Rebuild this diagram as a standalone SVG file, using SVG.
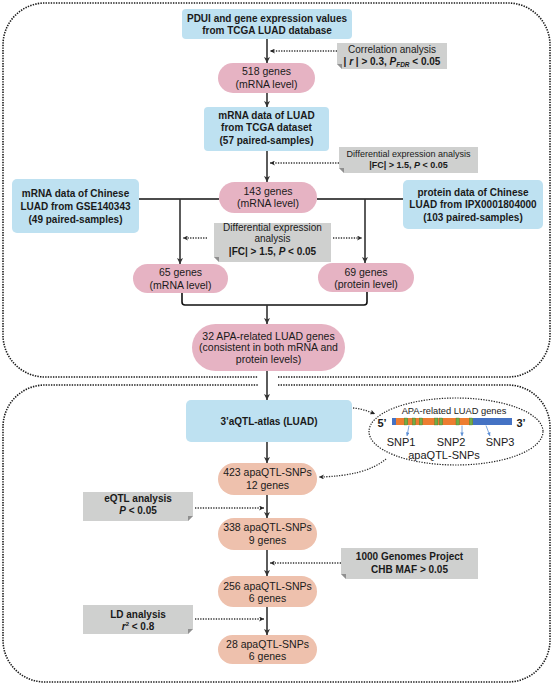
<svg xmlns="http://www.w3.org/2000/svg" width="553" height="685" viewBox="0 0 553 685">
<defs>
<style>
text{font-family:"Liberation Sans",Arial,sans-serif;fill:#1a1a1a;text-anchor:middle}
.b{font-weight:bold;font-size:10px}
.p{font-size:10.5px}
.g{font-size:10px}
.blue{fill:#BEE1F1}
.pink{fill:#E6B3C3}
.sal{fill:#EEC1AD}
.gray{fill:#CFD0CF}
.fold{fill:#8f8f8f}
.frame{fill:none;stroke:#1a1a1a;stroke-width:1.6;stroke-dasharray:1.4 1.2}
.main{fill:none;stroke:#333;stroke-width:1.6;marker-end:url(#ah)}
.dot{fill:none;stroke:#333;stroke-width:1.3;stroke-dasharray:1.3 1.3;marker-end:url(#dh)}
.line{fill:none;stroke:#111;stroke-width:1.6}
.snp{fill:none;stroke:#5C8FD6;stroke-width:0.8;marker-end:url(#sh)}
.sl{font-size:11px}
</style>
<marker id="ah" viewBox="0 0 10 10" refX="10" refY="5" markerUnits="userSpaceOnUse" markerWidth="8" markerHeight="6" orient="auto">
<path d="M0,0 L10,5 L0,10 L2.5,5 z" fill="#333"/>
</marker>
<marker id="dh" viewBox="0 0 10 10" refX="10" refY="5" markerUnits="userSpaceOnUse" markerWidth="7" markerHeight="5" orient="auto">
<path d="M0,0 L10,5 L0,10 L3,5 z" fill="#222"/>
</marker>
<marker id="sh" viewBox="0 0 10 10" refX="10" refY="5" markerUnits="userSpaceOnUse" markerWidth="4" markerHeight="3.5" orient="auto">
<path d="M0,0 L10,5 L0,10 z" fill="#5C8FD6"/>
</marker>
</defs>

<g id="frames">
<path class="frame" d="M278,377 H508 A42,42 0 0 0 550,335 V45 A42,42 0 0 0 508,3 H45 A42,42 0 0 0 3,45 V335 A42,42 0 0 0 45,377 H258"/>
<path class="frame" d="M278,385 H508 A42,42 0 0 1 550,427 V640 A42,42 0 0 1 508,682 H45 A42,42 0 0 1 3,640 V427 A42,42 0 0 1 45,385 H258"/>
</g>

<g id="connectors">
<line class="main" x1="267" y1="39" x2="267" y2="63"/>
<line class="main" x1="267" y1="93" x2="267" y2="107"/>
<line class="main" x1="267" y1="151" x2="267" y2="182"/>
<line class="line" x1="139" y1="199" x2="219" y2="199"/>
<line class="line" x1="317" y1="199" x2="403" y2="199"/>
<line class="main" x1="180" y1="199" x2="180" y2="264"/>
<line class="main" x1="365" y1="199" x2="365" y2="263"/>
<path class="line" stroke-width="2" d="M182,293 V302 Q182,305 185,305 H364 Q367,305 367,302 V292"/>
<line class="main" x1="267" y1="305" x2="267" y2="324"/>
<line class="main" x1="267" y1="371" x2="267" y2="400"/>
<line class="main" x1="267" y1="442" x2="267" y2="463"/>
<line class="main" x1="267" y1="495" x2="267" y2="518"/>
<line class="main" x1="267" y1="550" x2="267" y2="576"/>
<line class="main" x1="267" y1="607" x2="267" y2="635"/>
<line class="dot" x1="337" y1="51" x2="270" y2="51"/>
<line class="dot" x1="339" y1="163" x2="270" y2="163"/>
<line class="dot" x1="207" y1="238" x2="183" y2="238"/>
<line class="dot" x1="333" y1="238" x2="362" y2="238"/>
<line class="dot" x1="195" y1="508" x2="264" y2="508"/>
<line class="dot" x1="341" y1="563" x2="270" y2="563"/>
<line class="dot" x1="195" y1="619" x2="264" y2="619"/>
<path class="dot" d="M353,408 Q364,409 375,414"/>
<path class="dot" d="M386,459 Q366,476 319,477"/>
</g>

<g id="n-pdui">
<rect class="blue" x="182" y="9" width="170" height="30" rx="4"/>
<text class="b" x="267" y="22">PDUI and gene expression values</text>
<text class="b" x="267" y="33.5">from TCGA LUAD database</text>
</g>

<g id="n-corr">
<path class="gray" d="M337,43 H447 V69 H342 L337,64 Z"/>
<path class="fold" d="M337,64 L342,64 L342,69 Z"/>
<text class="g" x="392" y="53">Correlation analysis</text>
<text class="b" x="392" y="64.5">| <tspan font-style="italic">r</tspan> | &gt; 0.3, <tspan font-style="italic">P</tspan><tspan font-style="italic" font-size="6.5" dy="2">FDR</tspan><tspan dy="-2"> &lt; 0.05</tspan></text>
</g>

<g id="n-518">
<rect class="pink" x="218" y="63" width="97" height="30" rx="15"/>
<text class="p" x="266.5" y="75">518 genes</text>
<text class="p" x="266.5" y="87.5">(mRNA level)</text>
</g>

<g id="n-tcga">
<rect class="blue" x="204" y="107" width="125" height="44" rx="4"/>
<text class="b" x="266.5" y="118.5">mRNA data of LUAD</text>
<text class="b" x="266.5" y="131">from TCGA dataset</text>
<text class="b" x="266.5" y="143.5">(57 paired-samples)</text>
</g>

<g id="n-diff1">
<path class="gray" d="M339,147 H478 V173 H344 L339,168 Z"/>
<path class="fold" d="M339,168 L344,168 L344,173 Z"/>
<text font-size="9" x="408.5" y="157">Differential expression analysis</text>
<text font-size="9" font-weight="bold" x="408.5" y="168">|FC| &gt; 1.5, <tspan font-style="italic">P</tspan> &lt; 0.05</text>
</g>

<g id="n-143">
<rect class="pink" x="219" y="182" width="98" height="31" rx="15.5"/>
<text class="p" x="268" y="194.5">143 genes</text>
<text class="p" x="268" y="207">(mRNA level)</text>
</g>

<g id="n-gse">
<rect class="blue" x="12" y="179" width="127" height="54" rx="5"/>
<text class="b" x="75.5" y="197">mRNA data of Chinese</text>
<text class="b" x="75.5" y="210">LUAD from GSE140343</text>
<text class="b" x="75.5" y="222.5">(49 paired-samples)</text>
</g>

<g id="n-ipx">
<rect class="blue" x="403" y="180" width="140" height="49" rx="5"/>
<text class="b" x="473" y="196">protein data of Chinese</text>
<text class="b" x="473" y="208">LUAD from IPX0001804000</text>
<text class="b" x="473" y="220.5">(103 paired-samples)</text>
</g>

<g id="n-diff2">
<path class="gray" d="M214,223 H331 V262 H219 L214,257 Z"/>
<path class="fold" d="M214,257 L219,257 L219,262 Z"/>
<text class="g" x="272.5" y="231">Differential expression</text>
<text class="g" x="272.5" y="242">analysis</text>
<text class="b" x="272.5" y="255">|FC| &gt; 1.5, <tspan font-style="italic">P</tspan> &lt; 0.05</text>
</g>

<g id="n-65">
<rect class="pink" x="133" y="264" width="95" height="29" rx="14.5"/>
<text class="p" x="180.5" y="276">65 genes</text>
<text class="p" x="180.5" y="288.5">(mRNA level)</text>
</g>

<g id="n-69">
<rect class="pink" x="318" y="263" width="96" height="29" rx="14.5"/>
<text class="p" x="366" y="275.5">69 genes</text>
<text class="p" x="366" y="288">(protein level)</text>
</g>

<g id="n-32">
<rect class="pink" x="192" y="324" width="153" height="47" rx="23.5"/>
<text class="p" x="268.5" y="339.5">32 APA-related LUAD genes</text>
<text class="p" x="268.5" y="351">(consistent in both mRNA and</text>
<text class="p" x="268.5" y="363">protein levels)</text>
</g>

<g id="n-atlas">
<rect class="blue" x="186" y="400" width="166" height="42" rx="5"/>
<text class="b" x="269" y="425">3’aQTL-atlas (LUAD)</text>
</g>

<g id="n-gene">
<ellipse cx="456" cy="431.5" rx="87" ry="33.5" fill="none" stroke="#222" stroke-width="1.2" stroke-dasharray="1.3 1.3"/>
<text font-size="9.3" x="454" y="414">APA-related LUAD genes</text>
<rect x="392" y="418" width="120" height="7" fill="#4472C4"/>
<rect x="396" y="418" width="77" height="7" fill="#ED7D31"/>
<g fill="#70AD47" stroke="#3d6b2a" stroke-width="0.3">
<rect x="404.3" y="418" width="3.5" height="7"/>
<rect x="412.5" y="418" width="3" height="7"/>
<rect x="419.3" y="418" width="3.2" height="7"/>
<rect x="434.7" y="418" width="3.2" height="7"/>
<rect x="439.5" y="418" width="3.2" height="7"/>
<rect x="456" y="418" width="3.3" height="7"/>
<rect x="469.3" y="418" width="3.5" height="7"/>
</g>
<text font-size="11" font-weight="bold" x="382" y="427">5’</text>
<text font-size="11" font-weight="bold" x="521" y="427">3’</text>
<line class="snp" x1="409" y1="425.5" x2="407" y2="436"/>
<line class="snp" x1="462" y1="425.5" x2="462" y2="436"/>
<line class="snp" x1="486" y1="425.5" x2="490" y2="436"/>
<text class="sl" x="401" y="446">SNP1</text>
<text class="sl" x="451" y="446">SNP2</text>
<text class="sl" x="500" y="446">SNP3</text>
<text class="sl" x="444" y="458.5">apaQTL-SNPs</text>
</g>

<g id="n-423">
<rect class="sal" x="218" y="463" width="99" height="32" rx="16"/>
<text class="p" x="267.5" y="476">423 apaQTL-SNPs</text>
<text class="p" x="267.5" y="488.5">12 genes</text>
</g>

<g id="n-eqtl">
<path class="gray" d="M83,492 H193 V516 L188,521 H83 Z"/>
<path class="fold" d="M193,516 L188,516 L188,521 Z"/>
<text class="b" x="138" y="502">eQTL analysis</text>
<text class="b" x="138" y="514"><tspan font-style="italic">P</tspan> &lt; 0.05</text>
</g>

<g id="n-338">
<rect class="sal" x="218" y="518" width="99" height="32" rx="16"/>
<text class="p" x="267.5" y="531">338 apaQTL-SNPs</text>
<text class="p" x="267.5" y="543.5">9 genes</text>
</g>

<g id="n-1000g">
<path class="gray" d="M341,548 H478 V579 H346 L341,574 Z"/>
<path class="fold" d="M341,574 L346,574 L346,579 Z"/>
<text class="b" x="409.5" y="560">1000 Genomes Project</text>
<text class="b" x="409.5" y="572.5">CHB MAF &gt; 0.05</text>
</g>

<g id="n-256">
<rect class="sal" x="218" y="576" width="99" height="31" rx="15.5"/>
<text class="p" x="267.5" y="589.5">256 apaQTL-SNPs</text>
<text class="p" x="267.5" y="602">6 genes</text>
</g>

<g id="n-ld">
<path class="gray" d="M83,605 H193 V629 L188,634 H83 Z"/>
<path class="fold" d="M193,629 L188,629 L188,634 Z"/>
<text class="b" x="138" y="617.5">LD analysis</text>
<text class="b" x="138" y="629.5"><tspan font-style="italic">r</tspan><tspan font-size="6" dy="-4">2</tspan><tspan dy="4"> &lt; 0.8</tspan></text>
</g>

<g id="n-28">
<rect class="sal" x="218" y="635" width="99" height="29" rx="14.5"/>
<text class="p" x="267.5" y="648">28 apaQTL-SNPs</text>
<text class="p" x="267.5" y="660">6 genes</text>
</g>
</svg>
